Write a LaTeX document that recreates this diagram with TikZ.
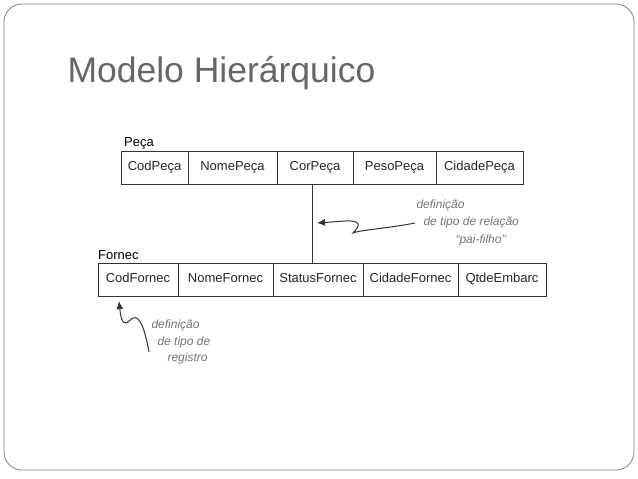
\documentclass[tikz,border=0pt]{standalone}
\usepackage{fontspec}
\setmainfont{Liberation Sans}
\usetikzlibrary{arrows.meta}
\begin{document}
\begin{tikzpicture}[x=1pt,y=-1pt,
  cell/.style={draw=black!80,line width=0.6pt,minimum height=33pt,inner sep=0pt,text height=9.5pt,text depth=2.8pt,font=\fontsize{13}{15}\selectfont,text=black!85},
  hand/.style={font=\itshape\fontsize{12}{14}\selectfont,text=black!55,anchor=west},
  note/.style={-{Latex[length=8pt,width=7pt]},line width=1pt,black!80}]
\useasboundingbox (0,0) rectangle (638,479);
\draw[black!50,line width=0.8pt,rounded corners=18pt] (4,4) rectangle (634,470);
\node[anchor=west,text=black!60,font=\fontsize{35.5}{40}\selectfont] (title) at (64,73) {Modelo Hierárquico};
% top row
\node[anchor=south west,inner sep=1pt,font=\fontsize{13}{15}\selectfont] (peca) at (123,150) {Peça};
\foreach \n/\a/\b/\t in {p1/121/188/CodPeça,p2/188/277/NomePeça,p3/277/353/CorPeça,p4/353/436/PesoPeça,p5/436/523/CidadePeça}{
  \node[cell,minimum width=\b-\a] (\n) at ({(\a+\b)/2},167.5) {\t};
}
\node[anchor=south west,inner sep=1pt,font=\fontsize{13}{15}\selectfont] (fornec) at (97,261) {Fornec};
\foreach \n/\a/\b/\t in {f1/98/178/CodFornec,f2/178/273/NomeFornec,f3/273/363/StatusFornec,f4/363/458/CidadeFornec,f5/458/546/QtdeEmbarc}{
  \node[cell,minimum width=\b-\a] (\n) at ({(\a+\b)/2},279.5) {\t};
}
\coordinate (ltop) at (312,184);
\coordinate (lbot) at (312,263);
\draw[line width=0.8pt,black!80] (ltop) -- (lbot);
% annotations
\node[hand] (r1) at (413,205) {definição};
\node[hand] (r2) at (420,222) {de tipo de relação};
\node[hand] (r3) at (452,240) {“pai-filho”};
\coordinate (rs) at (415,223);
\coordinate (rt) at (317,223);
\draw[note] (rs) .. controls (390,228) and (360,230) .. (353,233) .. controls (360,226) and (362,220) .. (345,221) -- (rt);
\node[hand] (g1) at (148,325) {definição};
\node[hand] (g2) at (154,342) {de tipo de};
\node[hand] (g3) at (164,358) {registro};
\coordinate (gs) at (149,352);
\coordinate (gt) at (119,301);
\draw[note] (gs) .. controls (145,330) and (140,315) .. (133,318) .. controls (127,322) and (122,330) .. (gt);
\end{tikzpicture}
\end{document}
